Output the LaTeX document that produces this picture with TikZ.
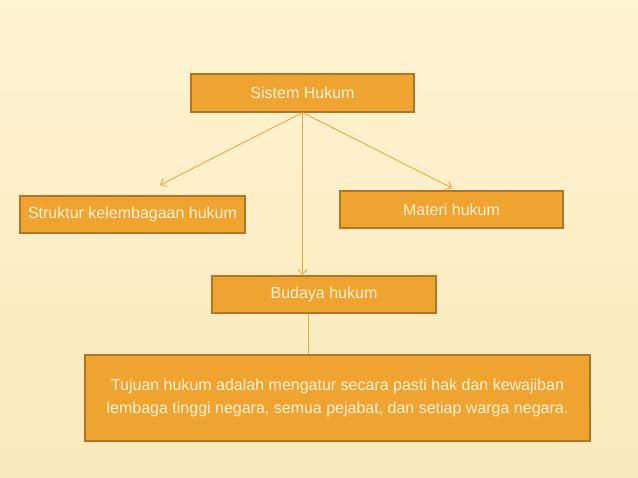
\documentclass[tikz,border=0pt]{standalone}
\usepackage{fontspec}
\setmainfont{Liberation Sans}
\usetikzlibrary{arrows.meta}

\definecolor{boxfill}{RGB}{239,164,50}
\definecolor{boxline}{RGB}{176,118,38}
\definecolor{boxtext}{RGB}{255,242,212}
\definecolor{linkcol}{RGB}{238,170,62}
\definecolor{bgtop}{RGB}{254,243,210}
\definecolor{bgbot}{RGB}{250,233,186}

\begin{document}
\begin{tikzpicture}[x=1pt,y=-1pt,
    box/.style={draw=boxline,fill=boxfill,line width=1.2pt,inner sep=0pt,
      text=boxtext,font=\fontsize{16}{23}\selectfont,align=center},
    link/.style={draw=linkcol,line width=0.9pt},
    arr/.style={link,-{Straight Barb[length=5pt,width=9pt]}}]
    % background
    \shade[top color=bgtop,bottom color=bgbot] (0,0) rectangle (638,478);
    \useasboundingbox (0,0) rectangle (638,478);
    % boxes
    \node[box,minimum width=223pt,minimum height=38pt] (sis) at (302.5,93) {Sistem Hukum};
    \node[box,minimum width=225pt,minimum height=37pt] (str) at (132.5,214.5) {Struktur kelembagaan hukum};
    \node[box,minimum width=223pt,minimum height=37pt] (mat) at (451.5,209.5) {Materi hukum};
    \node[box,minimum width=224pt,minimum height=37pt] (bud) at (324,294.5) {Budaya hukum};
    \node[box,minimum width=505pt,minimum height=86pt] (tuj) at (337.5,398)
      {Tujuan hukum adalah mengatur secara pasti hak dan kewajiban\\
       lembaga tinggi negara, semua pejabat, dan setiap warga negara.};
    % arrow ends
    \coordinate (e1) at (160,185);
    \coordinate (e2) at (452,188);
    \coordinate (e3) at (302.5,275);
    \draw[arr] (sis.south) -- (e1);
    \draw[arr] (sis.south) -- (e2);
    \draw[arr] (sis.south) -- (e3);
    \draw[link] ([xshift=-16pt]bud.south) -- ([xshift=-16pt]bud.south |- tuj.north);
\end{tikzpicture}
\end{document}
